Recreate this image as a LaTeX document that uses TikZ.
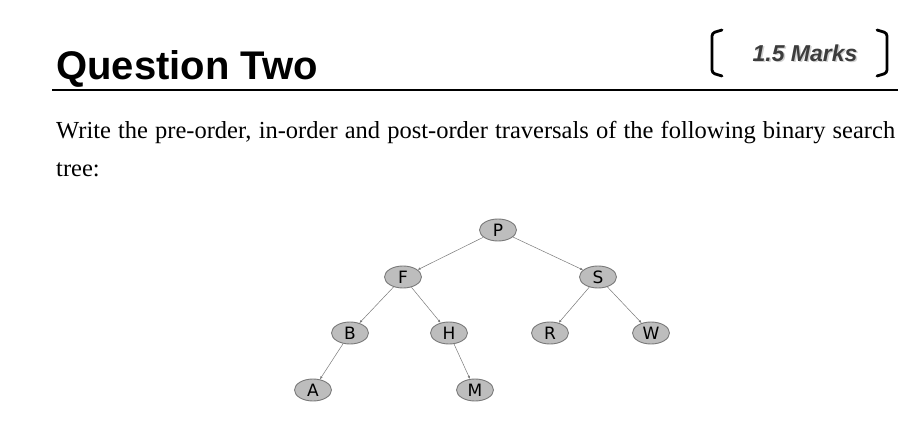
\documentclass[tikz,border=0pt]{standalone}
\usepackage{fontspec}
\setmainfont{Liberation Serif}
\setsansfont{Liberation Sans}
\newfontfamily\nodefont{DejaVu Sans}
\usepackage{xcolor}
\usetikzlibrary{arrows.meta,positioning,shapes.geometric}
\definecolor{TreeFill}{HTML}{BDBDBD}
\definecolor{TreeEdge}{HTML}{7A7A7A}
\definecolor{MarkGray}{HTML}{3C3C3C}

\begin{document}
\begin{tikzpicture}[
  x=1pt, y=-1pt,
  treenode/.style={ellipse,draw=TreeEdge,fill=TreeFill,line width=0.9pt,
    minimum width=37pt,minimum height=22pt,inner sep=0pt,font=\nodefont\fontsize{17}{17}\selectfont},
  edge/.style={-{Latex[length=3pt,width=2.5pt]},draw=TreeEdge,line width=0.5pt},
  bracket/.style={line width=2.8pt,rounded corners=3pt,line cap=round},
  marktext/.style={font=\sffamily\bfseries\itshape\fontsize{23}{23}\selectfont}
]
  \useasboundingbox (0,0) rectangle (922,438);
  % heading
  \node[anchor=base west,inner sep=0pt,font=\sffamily\bfseries\fontsize{40}{40}\selectfont] (title) at (56,80) {Question Two};
  \draw[line width=2pt] (52,90) -- (898,90);
  \draw[bracket] (722,30) -- (712,33) -- (712,73) -- (722,76);
  \draw[bracket] (877,30) -- (887,33) -- (887,73) -- (877,76);
  \node[marktext,text=black!18] at (806.5,54.5) {1.5 Marks};
  \node[marktext,text=MarkGray] (marks) at (805,53) {1.5 Marks};
  % question text
  \node[anchor=north west,inner sep=0pt,text width=839pt,align=justify,
    font=\fontsize{24.5}{38}\selectfont] (question) at (56,121)
    {Write the pre-order, in-order and post-order traversals of the following binary search tree:};
  % tree
  \node[treenode] (p) at (498,230) {P};
  \node[treenode] (f) at (403,277) {F};
  \node[treenode] (s) at (598,277) {S};
  \node[treenode] (b) at (350,333) {B};
  \node[treenode] (h) at (449,333) {H};
  \node[treenode] (r) at (550,333) {R};
  \node[treenode] (w) at (651,333) {W};
  \node[treenode] (a) at (313,390) {A};
  \node[treenode] (m) at (475,390) {M};
  \draw[edge] (p) -- (f);
  \draw[edge] (p) -- (s);
  \draw[edge] (f) -- (b);
  \draw[edge] (f) -- (h);
  \draw[edge] (s) -- (r);
  \draw[edge] (s) -- (w);
  \draw[edge] (b) -- (a);
  \draw[edge] (h) -- (m);
\end{tikzpicture}
\end{document}
